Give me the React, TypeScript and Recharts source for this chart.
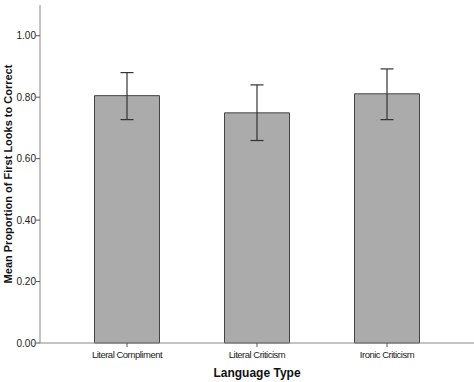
import { BarChart, Bar, XAxis, YAxis, ErrorBar, Label } from "recharts";

const categories = ["Literal Compliment", "Literal Criticism", "Ironic Criticism"];
const means = [0.805, 0.749, 0.811];
const errLow = [0.078, 0.09, 0.084];
const errHigh = [0.075, 0.091, 0.081];
const yTicks = [0, 0.2, 0.4, 0.6, 0.8, 1.0];

const data = categories.map((name, i) => ({
  name,
  mean: means[i],
  err: [errLow[i], errHigh[i]],
}));

const font = "'Liberation Sans', Arial, sans-serif";

export default function App() {
  return (
    <div style={{ position: "absolute", left: 0, top: 0, background: "#fff" }}>
      <BarChart
        width={474}
        height={382}
        data={data}
        margin={{ top: 5, right: 0, bottom: 0, left: 0 }}
        barCategoryGap="25%"
      >
        <XAxis
          dataKey="name"
          height={39}
          padding={{ left: 22, right: 22 }}
          stroke="#888"
          tickSize={4}
          tickMargin={4}
          tickLine={{ stroke: "#555" }}
          tick={{ fontSize: 9.5, fill: "#222", fontFamily: font, letterSpacing: -0.5 }}
          interval={0}
        >
          <Label
            content={({ viewBox }: any) => (
              <text
                x={viewBox.x + viewBox.width / 2}
                y={viewBox.y + 34}
                textAnchor="middle"
                fontFamily={font}
                fontWeight="bold"
                fontSize={12}
                fill="#111"
              >
                Language Type
              </text>
            )}
          />
        </XAxis>
        <YAxis
          width={40}
          domain={[0, 1.1]}
          ticks={yTicks}
          tickFormatter={(v: number) => v.toFixed(2)}
          stroke="#888"
          tickSize={4}
          tickMargin={0}
          tickLine={{ stroke: "#555" }}
          tick={{ fontSize: 10, fill: "#222", fontFamily: font }}
        >
          <Label
            content={({ viewBox }: any) => (
              <text
                x={8}
                y={viewBox.y + viewBox.height / 2}
                transform={`rotate(-90, 8, ${viewBox.y + viewBox.height / 2})`}
                textAnchor="middle"
                dominantBaseline="central"
                fontFamily={font}
                fontWeight="bold"
                fontSize={11}
                fill="#111"
              >
                Mean Proportion of First Looks to Correct
              </text>
            )}
          />
        </YAxis>
        <Bar dataKey="mean" fill="#ababab" stroke="#444" strokeWidth={1} isAnimationActive={false}>
          <ErrorBar dataKey="err" width={6.5} stroke="#333" strokeWidth={1.2} isAnimationActive={false} />
        </Bar>
      </BarChart>
    </div>
  );
}
